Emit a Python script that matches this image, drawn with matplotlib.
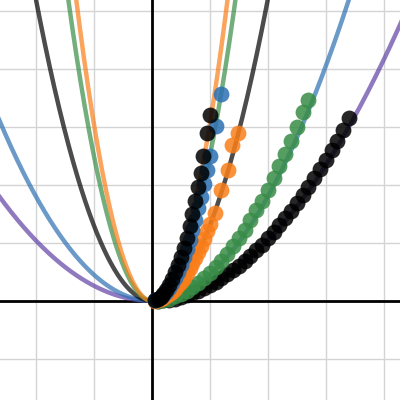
import matplotlib
matplotlib.use("Agg")
import matplotlib.pyplot as plt
import numpy as np

# parabola coefficients (y = a x^2), Desmos style curves
curve_a = [0.26, 0.45, 1.3, 2.5, 3.05]
curve_colors = ["#6042a6", "#2d70b3", "#000000", "#388c46", "#fa7e19"]

# scatter series
blk1_x = [0.05, 0.1, 0.15, 0.2, 0.25, 0.3, 0.35, 0.4, 0.45, 0.5, 0.55, 0.6, 0.65, 0.7, 0.75, 0.8, 0.84, 0.88, 0.95, 1.0]
blk1_y = [0.01, 0.03, 0.07, 0.12, 0.19, 0.28, 0.38, 0.5, 0.62, 0.75, 0.92, 1.08, 1.3, 1.5, 1.72, 1.97, 2.2, 2.5, 2.9, 3.2]
blue_x = [0.05, 0.1, 0.15, 0.2, 0.25, 0.3, 0.35, 0.4, 0.45, 0.5, 0.55, 0.6, 0.65, 0.7, 0.75, 0.8, 0.85, 0.9, 0.95, 1.0, 1.1, 1.19]
blue_y = [0.01, 0.025, 0.06, 0.1, 0.16, 0.22, 0.3, 0.4, 0.5, 0.62, 0.76, 0.9, 1.05, 1.22, 1.4, 1.6, 1.8, 2.02, 2.25, 2.5, 3.02, 3.57]
orng_x = [0.05, 0.1, 0.15, 0.2, 0.25, 0.3, 0.35, 0.4, 0.45, 0.5, 0.55, 0.6, 0.65, 0.7, 0.75, 0.8, 0.85, 0.9, 0.95, 1.0, 1.09, 1.19, 1.31, 1.38, 1.48]
orng_y = [0.0, 0.01, 0.03, 0.05, 0.08, 0.12, 0.16, 0.21, 0.27, 0.33, 0.4, 0.48, 0.56, 0.65, 0.74, 0.85, 0.95, 1.07, 1.2, 1.32, 1.52, 1.91, 2.26, 2.69, 2.9]
grn_x = [0.1, 0.2, 0.3, 0.4, 0.5, 0.6, 0.7, 0.8, 0.9, 1.0, 1.1, 1.2, 1.3, 1.4, 1.5, 1.6, 1.7, 1.8, 1.9, 2.0, 2.1, 2.2, 2.3, 2.4, 2.5, 2.6, 2.7]
grn_y = [0.005, 0.02, 0.04, 0.08, 0.12, 0.17, 0.24, 0.31, 0.39, 0.48, 0.58, 0.69, 0.81, 0.94, 1.08, 1.23, 1.39, 1.56, 1.73, 1.92, 2.12, 2.32, 2.54, 2.76, 3.0, 3.25, 3.47]
blk2_x = [0.1, 0.2, 0.3, 0.4, 0.5, 0.6, 0.7, 0.8, 0.9, 1.0, 1.1, 1.2, 1.3, 1.4, 1.5, 1.6, 1.7, 1.8, 1.9, 2.0, 2.1, 2.2, 2.3, 2.4, 2.5, 2.6, 2.7, 2.8, 2.9, 3.0, 3.1, 3.2, 3.3, 3.4]
blk2_y = [0.0, 0.01, 0.02, 0.04, 0.07, 0.1, 0.13, 0.17, 0.22, 0.27, 0.33, 0.39, 0.46, 0.53, 0.61, 0.69, 0.78, 0.87, 0.97, 1.08, 1.19, 1.31, 1.43, 1.55, 1.69, 1.82, 1.97, 2.12, 2.27, 2.43, 2.6, 2.76, 2.95, 3.15]

fig = plt.figure(figsize=(4, 4), dpi=100)
ax = fig.add_axes([0, 0, 1, 1])
ax.set_xlim(-2.62, 4.28)
ax.set_ylim(-1.71, 5.19)

for g in range(-2, 5):
    ax.axvline(g, color="#d4d4d4", lw=1, zorder=0)
for g in range(-1, 6):
    ax.axhline(g, color="#d4d4d4", lw=1, zorder=0)
ax.axvline(0, color="black", lw=2, zorder=1)
ax.axhline(0, color="black", lw=2, zorder=1)

xs = np.linspace(-2.7, 4.4, 600)
for a, c in zip(curve_a, curve_colors):
    ax.plot(xs, a * xs**2, color=c, lw=3.2, alpha=0.7, zorder=2)

for x, y, c in [(blk2_x, blk2_y, "#000000"), (grn_x, grn_y, "#388c46"),
                (orng_x, orng_y, "#fa7e19"), (blue_x, blue_y, "#2d70b3"),
                (blk1_x, blk1_y, "#000000")]:
    ax.scatter(x, y, s=130, color=c, alpha=0.85, lw=0, zorder=3)

ax.set_xticks([]); ax.set_yticks([])
for s in ax.spines.values():
    s.set_visible(False)
fig.savefig("out.png", dpi=100)
